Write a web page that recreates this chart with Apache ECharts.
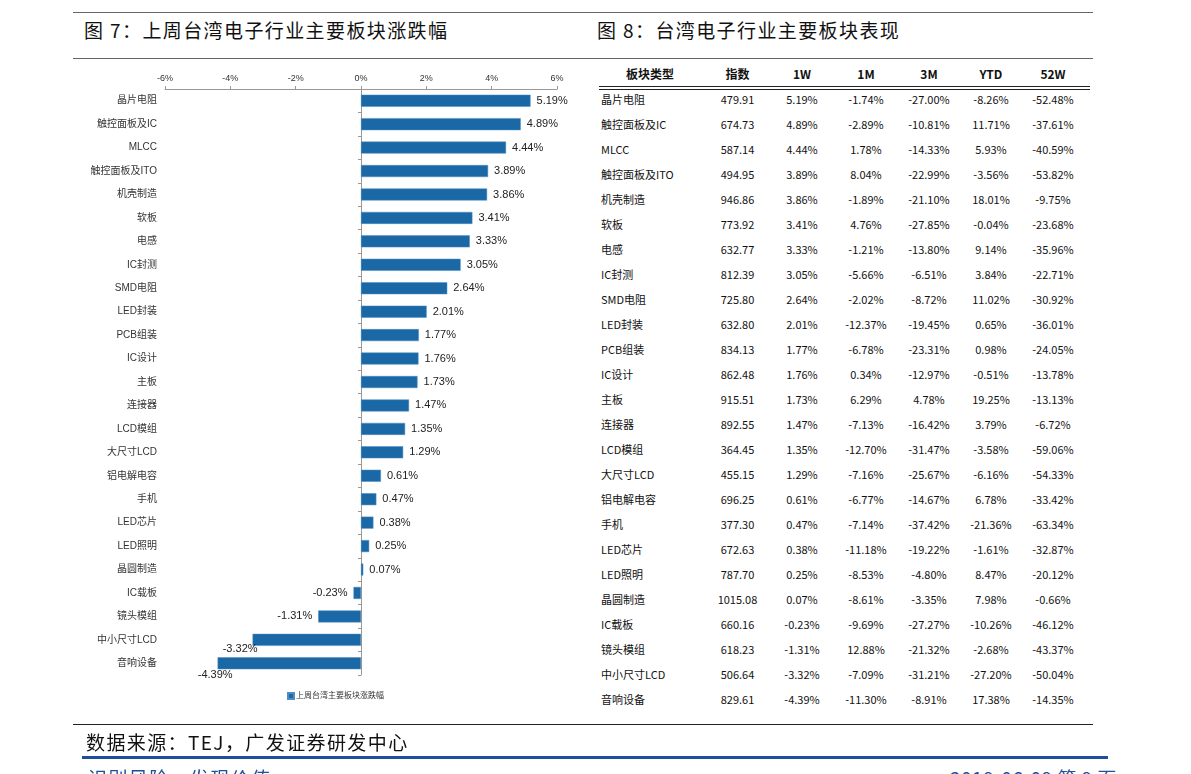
<!DOCTYPE html>
<html>
<head>
<meta charset="utf-8">
<script src="https://cdn.jsdelivr.net/npm/echarts@6/dist/echarts.min.js"></script>
<style>
  body { margin: 0; width: 1191px; height: 774px; overflow: hidden; background: #fff; position: relative;
         font-family: "Noto Sans CJK SC", "Noto Sans", sans-serif; color: #000; }
  .hline { position: absolute; height: 0; }
  .title { position: absolute; font-size: 19px; line-height: 24px; color: #111; white-space: nowrap; letter-spacing: 1.4px; }
  #chart { position: absolute; left: 0; top: 0; width: 595px; height: 774px; }
  #tbl { position: absolute; left: 595px; top: 62px; border-collapse: collapse; table-layout: fixed; font-size: 11px; color: #111; }
  #tbl th { font-weight: bold; font-size: 12px; height: 24px; line-height: 23px; vertical-align: top; text-align: center; padding: 0; }
  #tbl td { height: 25px; padding: 0; text-align: center; white-space: nowrap; }
  #tbl td.name { text-align: left; padding-left: 6px; }
</style>
</head>
<body>
<div class="hline" style="left:73px;top:12px;width:1020px;border-top:1.5px solid #666"></div>
<div class="title" style="left:84px;top:18px">图 7：上周台湾电子行业主要板块涨跌幅</div>
<div class="title" style="left:597px;top:18px">图 8：台湾电子行业主要板块表现</div>
<div class="hline" style="left:73px;top:58px;width:1020px;border-top:1.5px solid #666"></div>

<div id="chart"></div>
<table id="tbl">
  <colgroup>
    <col style="width:110px"><col style="width:65px"><col style="width:64px"><col style="width:64px">
    <col style="width:62px"><col style="width:62px"><col style="width:62px">
  </colgroup>
  <thead></thead>
  <tbody></tbody>
</table>
<div class="hline" style="left:599px;top:86px;width:491px;border-top:1px solid #222"></div>
<div class="hline" style="left:599px;top:89px;width:491px;border-top:1px solid #222"></div>

<div class="hline" style="left:73px;top:724px;width:1020px;border-top:1.5px solid #222"></div>
<div class="title" style="left:86px;top:730px">数据来源：TEJ，广发证券研发中心</div>
<div class="hline" style="left:82px;top:756px;width:1026px;border-top:3px solid #1f4e9c"></div>
<div class="title" style="left:88px;top:766px;color:#1f4e9c">识别风险，发现价值</div>
<div class="title" style="left:950px;top:766px;color:#1f4e9c;letter-spacing:0.5px">2019-06-09 第 9 页</div>

<script>
// 板块名称（图7、图8共用）
var categories = ['晶片电阻', '触控面板及IC', 'MLCC', '触控面板及ITO', '机壳制造', '软板', '电感', 'IC封测',
  'SMD电阻', 'LED封装', 'PCB组装', 'IC设计', '主板', '连接器', 'LCD模组', '大尺寸LCD', '铝电解电容',
  '手机', 'LED芯片', 'LED照明', '晶圆制造', 'IC载板', '镜头模组', '中小尺寸LCD', '音响设备']
// 上周涨跌幅 (%)
var week = [5.19, 4.89, 4.44, 3.89, 3.86, 3.41, 3.33, 3.05, 2.64, 2.01, 1.77, 1.76, 1.73, 1.47, 1.35, 1.29,
  0.61, 0.47, 0.38, 0.25, 0.07, -0.23, -1.31, -3.32, -4.39]
// 指数
var indexValues = [479.91, 674.73, 587.14, 494.95, 946.86, 773.92, 632.77, 812.39, 725.80, 632.80, 834.13,
  862.48, 915.51, 892.55, 364.45, 455.15, 696.25, 377.30, 672.63, 787.70, 1015.08, 660.16, 618.23, 506.64, 829.61]
var m1 = [-1.74, -2.89, 1.78, 8.04, -1.89, 4.76, -1.21, -5.66, -2.02, -12.37, -6.78, 0.34, 6.29, -7.13, -12.70,
  -7.16, -6.77, -7.14, -11.18, -8.53, -8.61, -9.69, 12.88, -7.09, -11.30]
var m3 = [-27.00, -10.81, -14.33, -22.99, -21.10, -27.85, -13.80, -6.51, -8.72, -19.45, -23.31, -12.97, 4.78,
  -16.42, -31.47, -25.67, -14.67, -37.42, -19.22, -4.80, -3.35, -27.27, -21.32, -31.21, -8.91]
var ytd = [-8.26, 11.71, 5.93, -3.56, 18.01, -0.04, 9.14, 3.84, 11.02, 0.65, 0.98, -0.51, 19.25, 3.79, -3.58,
  -6.16, 6.78, -21.36, -1.61, 8.47, 7.98, -10.26, -2.68, -27.20, 17.38]
var w52 = [-52.48, -37.61, -40.59, -53.82, -9.75, -23.68, -35.96, -22.71, -30.92, -36.01, -24.05, -13.78,
  -13.13, -6.72, -59.06, -54.33, -33.42, -63.34, -32.87, -20.12, -0.66, -46.12, -43.37, -50.04, -14.35]
var tableHeader = ['板块类型', '指数', '1W', '1M', '3M', 'YTD', '52W']
var seriesName = '上周台湾主要板块涨跌幅'

function pct(v) { return v.toFixed(2) + '%' }

// ---- 图8 表格 ----
var thead = document.querySelector('#tbl thead')
thead.innerHTML = '<tr>' + tableHeader.map(function (h) { return '<th>' + h + '</th>' }).join('') + '</tr>'
var rows = ''
for (var i = 0; i < categories.length; i++) {
  rows += '<tr><td class="name">' + categories[i] + '</td><td>' + indexValues[i].toFixed(2) + '</td><td>' +
    pct(week[i]) + '</td><td>' + pct(m1[i]) + '</td><td>' + pct(m3[i]) + '</td><td>' + pct(ytd[i]) +
    '</td><td>' + pct(w52[i]) + '</td></tr>'
}
document.querySelector('#tbl tbody').innerHTML = rows

// ---- 图7 条形图 ----
// 后两个负值的标签放到条形左下方
var labelShift = { 23: [11, 9], 24: [21, 12] }
var barData = week.map(function (v, i) {
  var item = { value: v, label: { position: v < 0 ? 'left' : 'right' } }
  if (labelShift[i]) item.label.offset = labelShift[i]
  return item
})

var myChart = echarts.init(document.getElementById('chart'), null, { renderer: 'canvas' })
myChart.setOption({
  animation: false,
  textStyle: { fontFamily: 'Liberation Sans, Noto Sans CJK SC, sans-serif' },
  grid: { left: 165, top: 89, width: 392, height: 586 },
  legend: {
    left: 282, top: 687, itemWidth: 6, itemHeight: 6, itemGap: 4,
    icon: 'rect',
    textStyle: { fontSize: 8, color: '#333', padding: [0, 0, 0, -3] },
    data: [seriesName]
  },
  xAxis: {
    type: 'value', position: 'top', min: -6, max: 6, interval: 2,
    axisLine: { show: true, lineStyle: { color: '#999' } },
    axisTick: { show: true, length: 3, lineStyle: { color: '#999' } },
    axisLabel: { formatter: '{value}%', fontSize: 9, color: '#333', margin: 6 },
    splitLine: { show: false }
  },
  yAxis: [
    {
      // 只显示左侧的类别文字
      type: 'category', inverse: true, data: categories,
      axisLine: { show: false, onZero: false }, axisTick: { show: false },
      axisLabel: { fontSize: 10, color: '#333', margin: 8 }
    },
    {
      // 0 轴上的竖线和刻度
      type: 'category', inverse: true, data: categories, position: 'left',
      axisLine: { show: true, onZero: true, lineStyle: { color: '#999' } },
      axisTick: { show: true, length: 3, lineStyle: { color: '#999' } },
      axisLabel: { show: false }
    }
  ],
  series: [{
    name: seriesName,
    type: 'bar',
    yAxisIndex: 0,
    barWidth: 12,
    itemStyle: { color: '#1a69a6', borderColor: '#4f8cc0', borderWidth: 0.5 },
    label: {
      show: true, fontSize: 11, color: '#222', distance: 6,
      formatter: function (p) { return pct(p.value) }
    },
    data: barData
  }]
})
</script>
</body>
</html>
